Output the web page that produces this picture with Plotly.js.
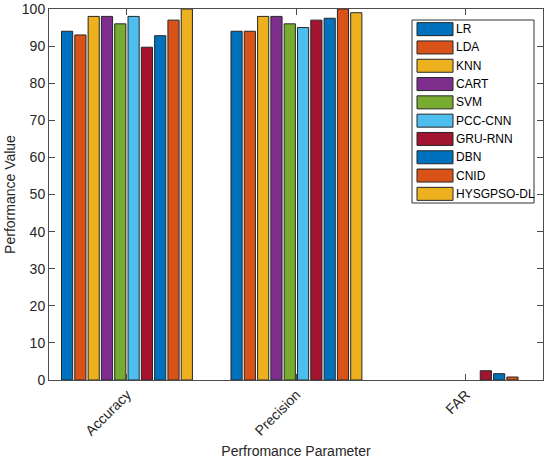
<!DOCTYPE html>
<html>
<head>
<meta charset="utf-8">
<script src="https://cdn.plot.ly/plotly-3.0.1.min.js"></script>
<style>html,body{margin:0;padding:0;background:#fff}#chart{width:550px;height:463px}</style>
</head>
<body>
<div id="chart"></div>
<script>
const categories = ["Accuracy", "Precision", "FAR"];
const methods = ["LR", "LDA", "KNN", "CART", "SVM", "PCC-CNN", "GRU-RNN", "DBN", "CNID", "HYSGPSO-DL"];
const LR = [94, 94, 0];
const LDA = [93, 94, 0];
const KNN = [98, 98, 0];
const CART = [98, 98, 0];
const SVM = [96, 96, 0];
const PCC_CNN = [98, 95, 0];
const GRU_RNN = [89.7, 97, 2.5];
const DBN = [92.8, 97.5, 1.7];
const CNID = [97, 100, 0.8];
const HYSGPSO_DL = [100, 99, 0];
const seriesValues = [LR, LDA, KNN, CART, SVM, PCC_CNN, GRU_RNN, DBN, CNID, HYSGPSO_DL];
const colors = ["#0072BD", "#D95319", "#EDB120", "#7E2F8E", "#77AC30", "#4DBEEE", "#A2142F", "#0072BD", "#D95319", "#EDB120"];
const yTicks = [0, 10, 20, 30, 40, 50, 60, 70, 80, 90, 100];

const traces = methods.map((m, i) => ({
  type: "bar",
  name: m,
  x: categories,
  y: seriesValues[i],
  marker: {
    color: colors[i],
    line: { color: "#262626", width: seriesValues[i].map(v => v > 0 ? 1 : 0) }
  }
}));

// Plot area geometry in pixels (for the custom legend box)
const W = 550, H = 463, M = { l: 49, r: 7, t: 9, b: 83 };
const pw = W - M.l - M.r, ph = H - M.t - M.b;
const px = x => (x - M.l) / pw;
const py = y => (H - M.b - y) / ph;

const legLeft = 412, legRight = 534, legTop = 20, legBottom = 203;
const rowH = (legBottom - legTop) / methods.length;
const shapes = [{
  type: "rect", xref: "paper", yref: "paper",
  x0: px(legLeft), x1: px(legRight), y0: py(legBottom), y1: py(legTop),
  fillcolor: "#fff", line: { color: "#333", width: 1 }, layer: "above"
}];
const annotations = [];
methods.forEach((m, i) => {
  const cy = legTop + rowH * (i + 0.5);
  shapes.push({
    type: "rect", xref: "paper", yref: "paper",
    x0: px(417), x1: px(453), y0: py(cy + 6.5), y1: py(cy - 6.5),
    fillcolor: colors[i], line: { color: "#262626", width: 1 }, layer: "above"
  });
  annotations.push({
    xref: "paper", yref: "paper", x: px(454), y: py(cy),
    xanchor: "left", yanchor: "middle", showarrow: false,
    text: m, font: { size: 12, color: "#000" }
  });
});

const axisColor = "#4d4d4d";
const layout = {
  width: W, height: H,
  margin: M,
  paper_bgcolor: "#fff", plot_bgcolor: "#fff",
  font: { family: "Liberation Sans, Arial, sans-serif", size: 13, color: "#262626" },
  barmode: "group",
  bargap: 0.215,
  bargroupgap: 0.16,
  showlegend: false,
  shapes: shapes,
  annotations: annotations,
  xaxis: {
    type: "category",
    range: [-0.46, 2.455],
    showline: true, linecolor: axisColor, linewidth: 1, mirror: "ticks",
    ticks: "inside", ticklen: 6, tickcolor: axisColor,
    tickangle: -45,
    tickfont: { size: 14, color: "#262626" },
    showgrid: false, zeroline: false,
    title: { text: "Perfromance Parameter", font: { size: 14, color: "#262626" }, standoff: 8 }
  },
  yaxis: {
    range: [0, 100],
    tickvals: yTicks,
    ticktext: yTicks.map(String),
    showline: true, linecolor: axisColor, linewidth: 1, mirror: "ticks",
    ticks: "inside", ticklen: 6, tickcolor: axisColor,
    tickfont: { size: 14, color: "#262626" },
    showgrid: false, zeroline: false,
    title: { text: "Performance Value", font: { size: 14, color: "#262626" }, standoff: 2 }
  }
};

Plotly.newPlot("chart", traces, layout, { displayModeBar: false, staticPlot: true });
</script>
</body>
</html>
